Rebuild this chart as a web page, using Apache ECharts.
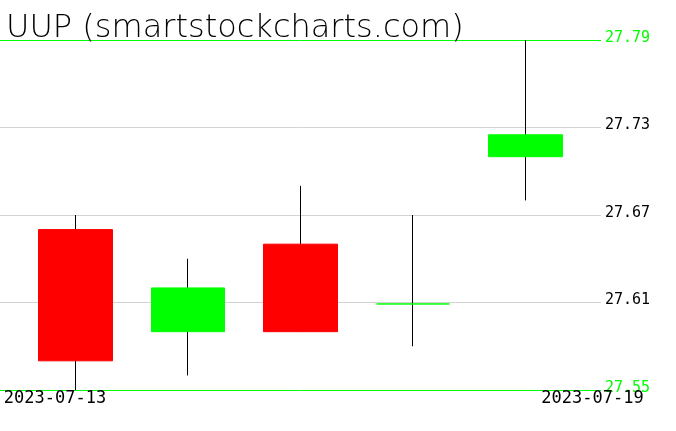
<!DOCTYPE html>
<html>
<head>
<meta charset="utf-8">
<script src="https://cdn.jsdelivr.net/npm/echarts@6/dist/echarts.min.js"></script>
<style>html,body{margin:0;padding:0;background:#fff;}#c{width:676px;height:431px;}</style>
</head>
<body>
<div id="c"></div>
<script>
const dates = ['2023-07-13', '2023-07-14', '2023-07-17', '2023-07-18', '2023-07-19'];
const opens = [27.66, 27.59, 27.65, 27.609, 27.71];
const closes = [27.57, 27.62, 27.59, 27.609, 27.725];
const lows = [27.55, 27.56, 27.59, 27.58, 27.68];
const highs = [27.67, 27.64, 27.69, 27.67, 27.79];
const yTicks = [27.55, 27.61, 27.67, 27.73, 27.79];

const full = dates.map((d, i) => [i, opens[i], closes[i], lows[i], highs[i]]);
const bodies = dates.map((d, i) => [i, opens[i], closes[i], Math.min(opens[i], closes[i]), Math.max(opens[i], closes[i])]);

const chart = echarts.init(document.getElementById('c'), null, {renderer: 'canvas'});
const GREEN = '#00ff00', RED = '#ff0000', GRID = '#d3d3d3';
const lastTick = yTicks.length - 1;
chart.setOption({
  animation: false,
  backgroundColor: '#ffffff',
  title: {
    text: 'UUP (smartstockcharts.com)',
    left: 1, top: 8,
    textStyle: {fontFamily: 'DejaVu Sans', fontSize: 32, fontWeight: 200, color: '#000'}
  },
  grid: {left: 0, right: 75, top: 40, bottom: 41},
  xAxis: {
    type: 'value',
    min: -0.67, max: 4.67, interval: 5.34,
    axisLine: {show: false}, axisTick: {show: false}, splitLine: {show: false},
    axisLabel: {
      show: true, margin: 0, showMinLabel: true, showMaxLabel: true,
      formatter: v => v < 2 ? '{a|' + dates[0] + '}' : '{b|' + dates[dates.length - 1] + '}',
      rich: {
        a: {fontFamily: 'DejaVu Sans Mono', fontSize: 17, color: '#000', padding: [0, 0, 0, 110]},
        b: {fontFamily: 'DejaVu Sans Mono', fontSize: 17, color: '#000', padding: [0, 17, 0, 0]}
      }
    }
  },
  yAxis: {
    type: 'value', position: 'right',
    min: yTicks[0], max: yTicks[lastTick], interval: 0.06,
    axisLine: {show: false}, axisTick: {show: false},
    splitLine: {show: true, lineStyle: {width: 1, color: yTicks.map((t, i) => (i === 0 || i === lastTick) ? GREEN : GRID)}},
    axisLabel: {
      margin: 4, verticalAlign: 'bottom', lineHeight: 4,
      fontFamily: 'DejaVu Sans Mono', fontSize: 15,
      formatter: v => v.toFixed(2),
      color: (v, i) => (Math.abs(v - yTicks[0]) < 1e-6 || Math.abs(v - yTicks[lastTick]) < 1e-6) ? GREEN : '#000'
    }
  },
  series: [
    {
      type: 'candlestick', data: full, encode: {x: 0, y: [1, 2, 3, 4]},
      barWidth: 1,
      itemStyle: {color: '#000', color0: '#000', borderColor: '#000', borderColor0: '#000', borderWidth: 1}
    },
    {
      type: 'candlestick', data: bodies, encode: {x: 0, y: [1, 2, 3, 4]},
      barWidth: 74,
      itemStyle: {color: GREEN, color0: RED, borderColor: GREEN, borderColor0: RED, borderColorDoji: GREEN, borderWidth: 1}
    }
  ]
});
</script>
</body>
</html>
